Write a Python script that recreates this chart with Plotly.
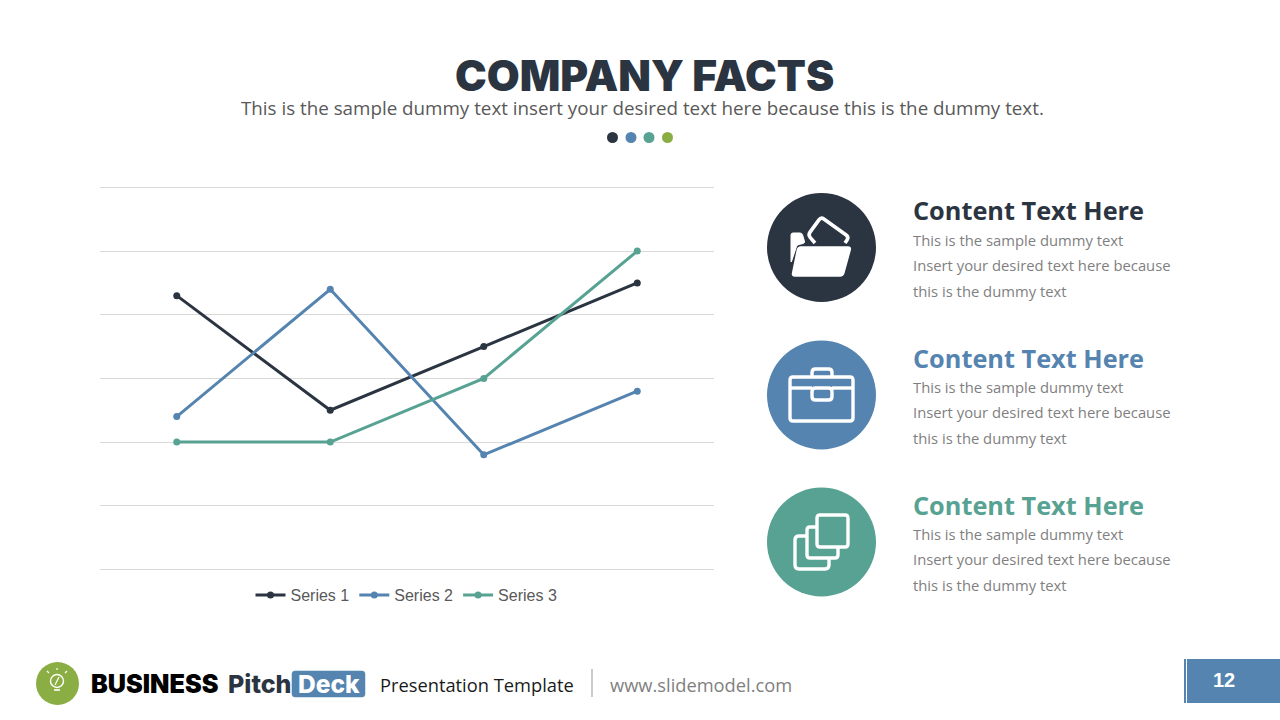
import plotly.graph_objects as go

W, H = 1280, 720
categories = ["Category 1", "Category 2", "Category 3", "Category 4"]
series_1 = [4.3, 2.5, 3.5, 4.5]
series_2 = [2.4, 4.4, 1.8, 2.8]
series_3 = [2, 2, 3, 5]
series_names = ["Series 1", "Series 2", "Series 3"]
grid_values = [0, 1, 2, 3, 4, 5, 6]

DARK, BLUE, TEAL, OLIVE = "#2b3441", "#5484af", "#57a292", "#8aae43"
GRAY = "#7f7f7f"


def px(x):
    return x / W


def py(y):
    return 1 - y / H


def P(x, y):
    return f"{px(x):.5f} {py(y):.5f}"


def rounded(points, r=3, close=False):
    """Polyline in pixels with quadratic rounded corners."""
    n = len(points)
    out = []
    idx = range(n) if close else range(1, n - 1)
    if not close:
        out.append("M " + P(*points[0]))
    first = True
    for i in idx:
        ax, ay = points[(i - 1) % n]
        bx, by = points[i]
        cx, cy = points[(i + 1) % n]
        la = max(((ax - bx) ** 2 + (ay - by) ** 2) ** .5, 1e-6)
        lc = max(((cx - bx) ** 2 + (cy - by) ** 2) ** .5, 1e-6)
        ra, rc = min(r, la / 2), min(r, lc / 2)
        s = (bx + (ax - bx) * ra / la, by + (ay - by) * ra / la)
        e = (bx + (cx - bx) * rc / lc, by + (cy - by) * rc / lc)
        out.append(("M " if close and first else "L ") + P(*s))
        out.append("Q " + P(bx, by) + " " + P(*e))
        first = False
    if close:
        out.append("Z")
    else:
        out.append("L " + P(*points[-1]))
    return " ".join(out)


shapes, annotations = [], []


def circle(cx, cy, r, fill, line=None, lw=0):
    shapes.append(dict(type="circle", xref="paper", yref="paper",
                       x0=px(cx - r), x1=px(cx + r), y0=py(cy + r), y1=py(cy - r),
                       fillcolor=fill, line=dict(color=line or fill, width=lw)))


def path(points, close=False, fill=None, color="white", lw=3.4, r=3):
    shapes.append(dict(type="path", xref="paper", yref="paper", path=rounded(points, r, close),
                       fillcolor=fill or "rgba(0,0,0,0)",
                       line=dict(color=color, width=lw)))


def rect(x0, y0, x1, y1, fill=None, color="white", lw=3.4, r=3):
    path([(x0, y0), (x1, y0), (x1, y1), (x0, y1)], True, fill, color, lw, r)


def text(x, y, s, size, color, family="Open Sans", weight=400, anchor="left"):
    font = dict(size=size, color=color, family=family, weight=weight)
    annotations.append(dict(xref="paper", yref="paper", x=px(x), y=py(y), text=s,
                            showarrow=False, xanchor=anchor, yanchor="middle",
                            borderpad=0, borderwidth=0, font=font))


# Header
text(644.5, 76, "COMPANY FACTS", 42.5, DARK, "Inter", 900, "center")
text(642, 108, "This is the sample dummy text insert your desired text here because this is the dummy text.",
     18.8, "#595959", "Open Sans", 400, "center")
for cx, col in zip([612.5, 631, 649, 667.5], [DARK, BLUE, TEAL, OLIVE]):
    circle(cx, 137.5, 5.5, col)

# Right-hand list
rows = [(247.5, DARK, 210, 0), (395, BLUE, 358, 147), (542, TEAL, 505.5, 294)]
for cy, col, ty, off in rows:
    circle(821.5, cy, 54.5, col)
    text(913, ty, "Content Text Here", 25.3, col, "Open Sans", 700)
    for dy, line in zip([240, 265, 291], ["This is the sample dummy text",
                                          "Insert your desired text here because",
                                          "this is the dummy text"]):
        text(913, dy + off, line, 14.8, GRAY)

# Folder icon
path([(798, 247), (851, 247), (843, 276), (792, 276)], True, "white", "white", 1.5, 3)
path([(791, 233), (802, 233), (805, 243), (797, 245), (791, 263)], True, "white", "white", 1, 2)
path([(815, 243), (808, 235), (821, 217), (849, 237), (845, 243)], lw=3.6, r=3.5)

# Briefcase icon
rect(790, 377, 853, 421)
path([(790, 388), (812, 388)], r=0)
path([(832, 388), (853, 388)], r=0)
rect(812, 388, 832, 400, r=3.5)
path([(812, 377), (812, 369), (832, 369), (832, 377)], r=3.5)

# Copies icon
rect(817, 515, 848, 547)
path([(817, 527), (807, 527), (807, 558), (838, 558), (838, 547)])
path([(807, 536), (795, 536), (795, 569), (829, 569), (829, 558)], r=4)

# Footer
circle(57.5, 683.5, 21.5, OLIVE)
circle(57, 681, 6.5, "rgba(0,0,0,0)", "white", 1.4)
path([(54, 690), (60, 690)], lw=1.6, r=0)
path([(55, 685), (59, 677)], lw=1.2, r=0)
for seg in [[(49, 673), (47, 671)], [(57, 670), (57, 668)], [(65, 673), (67, 671)]]:
    path(seg, lw=1.2, r=0)
text(91, 684, "BUSINESS", 25.2, "#000000", "Inter", 900)
text(228, 684, "Pitch", 25, DARK, "Inter", 800)
path([(292, 671), (365, 671), (365, 697), (292, 697)], True, BLUE, BLUE, 0.5, 3)
text(328.5, 684, "Deck", 24.5, "white", "Inter", 800, "center")
text(380, 684, "Presentation Template", 18.3, "#1a1a1a")
path([(592, 669), (592, 697)], color="#bfbfbf", lw=1.6, r=0)
text(610, 684, "www.slidemodel.com", 18.3, GRAY)
shapes.append(dict(type="rect", xref="paper", yref="paper", x0=px(1187), x1=px(1280), y0=py(703), y1=py(659),
                   fillcolor=BLUE, line=dict(width=0)))
shapes.append(dict(type="rect", xref="paper", yref="paper", x0=px(1184), x1=px(1186), y0=py(703), y1=py(659),
                   fillcolor=BLUE, line=dict(width=0)))
text(1223.5, 680, "12", 20, "white", "Liberation Sans", 700, "center")

fig = go.Figure()
for name, vals, col in zip(series_names, [series_1, series_2, series_3], [DARK, BLUE, TEAL]):
    fig.add_trace(go.Scatter(x=categories, y=vals, name=name, mode="lines+markers",
                             line=dict(color=col, width=3), marker=dict(color=col, size=7)))

fig.update_layout(
    width=W, height=H, margin=dict(l=0, r=0, t=0, b=0),
    paper_bgcolor="white", plot_bgcolor="white",
    shapes=shapes, annotations=annotations,
    showlegend=True,
    legend=dict(orientation="h", xanchor="center", yanchor="middle", x=px(406.5), y=py(595),
                font=dict(family="Liberation Sans", size=16, color="#595959"),
                bgcolor="rgba(0,0,0,0)", itemwidth=30),
    xaxis=dict(domain=[px(100), px(714)], range=[-0.5, 3.5], showticklabels=False, showgrid=False,
               zeroline=False, showline=False, ticks="", fixedrange=True),
    yaxis=dict(domain=[py(569.4), py(174.7)], range=[0, 6.2], tickmode="array", tickvals=grid_values,
               showticklabels=False, showgrid=True,
               gridcolor="#d9d9d9", gridwidth=1, zeroline=True, zerolinecolor="#d9d9d9", zerolinewidth=1,
               ticks="", fixedrange=True),
)
fig.write_html("out.html", config={"displayModeBar": False},
               post_script="document.body.style.margin='0';document.body.style.overflow='hidden';")
